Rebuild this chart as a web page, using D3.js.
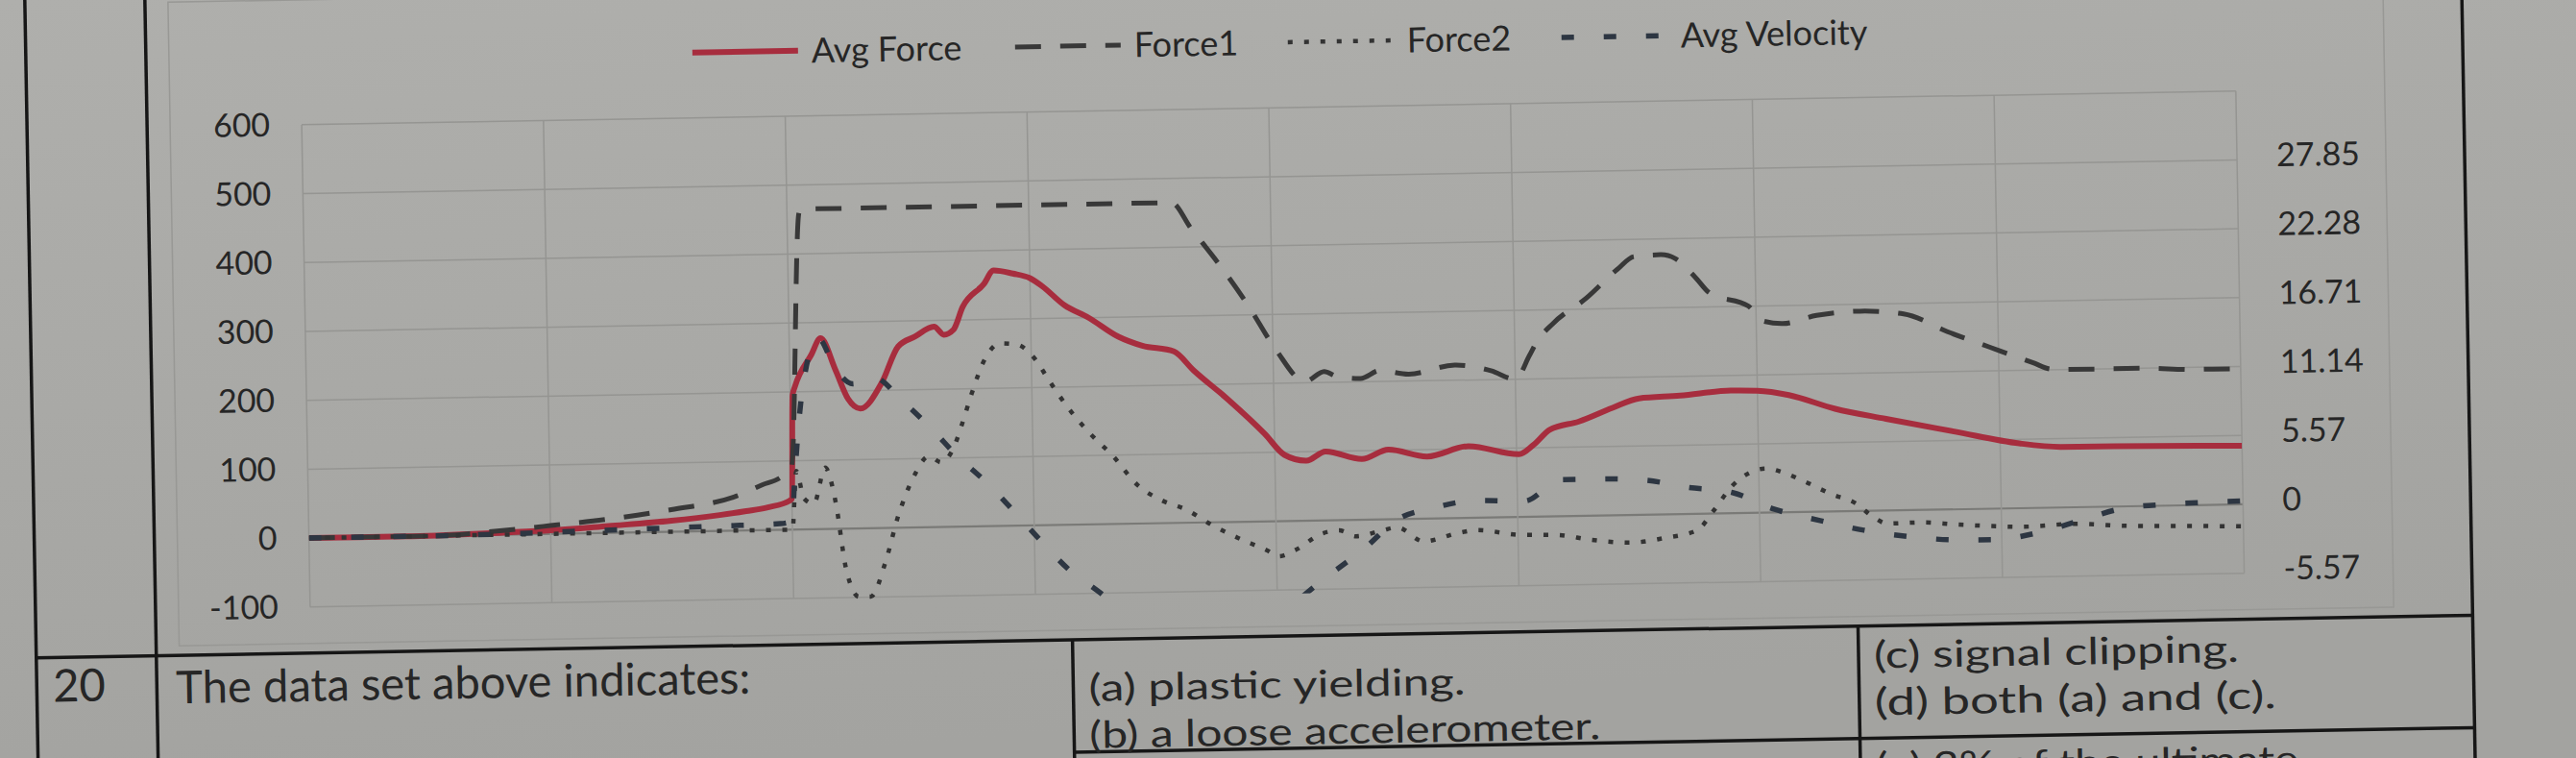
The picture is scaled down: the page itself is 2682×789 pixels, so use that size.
<!DOCTYPE html>
<html>
<head>
<meta charset="utf-8">
<script src="https://cdn.jsdelivr.net/npm/d3@7"></script>
<style>
  html, body { margin: 0; padding: 0; background: #a9a9a6; }
  svg { display: block; }
  text { font-family: Lato, "Open Sans", "Noto Sans", sans-serif; fill: #262626; }
</style>
</head>
<body>
<script>
// ---------------- data ----------------
// time axis is unlabeled; 8 equal gridline intervals -> time units 0..80
const gridTimes = [0, 10, 20, 30, 40, 50, 60, 70, 80];
const leftTicks = [-100, 0, 100, 200, 300, 400, 500, 600];
const rightTicks = [-5.57, 0, 5.57, 11.14, 16.71, 22.28, 27.85];
const legendLabels = ["Avg Force", "Force1", "Force2", "Avg Velocity"];

const avgForceT = [0, 4, 8, 10, 12.4, 15, 17, 18.1, 19, 19.9, 20, 20.1, 20.2, 20.9, 21.3, 21.9, 22.4, 22.9, 23.8, 24.5, 25.2, 26, 26.4, 26.8, 27.2, 28.1, 28.5, 29.3, 30, 30.5, 31.4, 32.4, 33.6, 34.6, 35.9, 36.7, 38.1, 39.6, 40.4, 41.3, 42.1, 43.6, 44.7, 46.3, 48, 50.1, 50.7, 51.4, 52.6, 54, 55.1, 56.8, 58.9, 60, 61.3, 63.2, 65.3, 68.1, 70.8, 72.5, 76.4, 80];
const avgForce  = [0, 0, 3, 5, 10, 16, 23, 28, 33, 42, 45, 195, 207, 253, 277, 230, 188, 174, 211, 263, 277, 291, 279, 286, 319, 352, 371, 366, 359, 347, 319, 300, 272, 258, 249, 221, 178, 127, 96, 87, 100, 88, 101, 90, 104, 91, 104, 126, 137, 156, 169, 172, 178, 177, 170, 149, 133, 113, 94, 88, 87, 85];

const force1T = [0, 5, 8, 10, 12.4, 15, 17.7, 18.8, 19.5, 20, 20.5, 20.6, 35.9, 36.7, 37.9, 39, 40.1, 41.3, 42.1, 42.6, 43.6, 44.4, 45.6, 47.5, 49, 50, 50.6, 50.9, 51.6, 53, 54.3, 55, 56.1, 56.7, 57.5, 58.1, 59.7, 60.3, 61.1, 62.5, 64.3, 66.1, 67.9, 69.6, 71.4, 72.2, 74, 76, 78, 80];
const force1  = [0, 0, 6, 12, 20, 32, 50, 66, 75, 89, 460, 465, 465, 427, 371, 314, 250, 202, 216, 209, 205, 216, 210, 222, 213, 200, 234, 253, 280, 316, 357, 375, 377, 371, 344, 320, 300, 278, 274, 285, 290, 285, 258, 235, 211, 201, 200, 200, 197, 197];

const force2T = [0, 19.9, 20, 20.2, 20.5, 20.9, 21.4, 21.8, 22.2, 22.7, 23.2, 23.8, 24.4, 25, 25.7, 26.2, 26.7, 27.1, 27.5, 28.1, 28.7, 29.4, 30.1, 30.7, 31.4, 32.4, 33.3, 34.3, 35.3, 36.3, 37.4, 38.4, 39.6, 40.1, 40.8, 41.9, 42.6, 43.3, 44.4, 45, 46.1, 47.5, 48.3, 50.1, 51.6, 53, 54.7, 56.1, 57.4, 58.1, 58.9, 59.6, 60.3, 61, 61.9, 63, 64, 64.7, 65.3, 66.7, 68.1, 69.5, 70.9, 73, 75, 77.8, 80];
const force2  = [0, 0, 0, 85, 45, 37, 89, 40, -60, -99, -99, -52, 19, 70, 103, 94, 113, 150, 192, 244, 265, 263, 244, 211, 174, 131, 99, 56, 33, 19, -5, -23, -42, -51, -42, -19, -15, -24, -16, -12, -33, -22, -18, -26, -27, -35, -40, -34, -24, 4, 40, 58, 64, 58, 44, 25, 11, -9, -19, -18, -22, -25, -27, -24, -28, -30, -32];

// Avg Velocity (secondary axis, m/s); it runs off the bottom of the plot around t = 33..41
const velocityT = [0, 5, 8, 11, 14, 17, 19.5, 20, 20.1, 20.5, 21.2, 21.9, 22.6, 23.4, 24.7, 25.9, 26.8, 28.1, 29.2, 30.2, 31.4, 32.7, 34.5, 37, 39.5, 42.1, 43.6, 45, 46.5, 48.3, 50.3, 51.8, 53.5, 55.3, 57, 58.9, 60.6, 62.5, 64.3, 66.1, 67.9, 69.7, 71.5, 73.3, 75, 76.8, 78.6, 80];
const velocity  = [0, 0, 0.06, 0.17, 0.28, 0.39, 0.5, 0.67, 3.34, 11.14, 15.43, 12.92, 11.7, 12.25, 10.14, 7.8, 5.85, 3.45, 1.11, -1.11, -3.62, -5.57, -8.91, -10.86, -8.36, -4.51, -2.4, -0.06, 0.84, 1.39, 1.28, 2.95, 2.95, 2.79, 2.17, 1.67, 0.28, -0.72, -1.56, -2.12, -2.45, -2.51, -2.01, -1.06, -0.17, 0.11, 0.22, 0.28];

// ---------------- drawing ----------------
const W = 2682, H = 789;
const svg = d3.select("body").append("svg").attr("width", W).attr("height", H);
const defs = svg.append("defs");
const grad = defs.append("linearGradient").attr("id", "paper")
  .attr("x1", 0).attr("y1", 0).attr("x2", 0.3).attr("y2", 1);
grad.append("stop").attr("offset", 0).attr("stop-color", "#afafac");
grad.append("stop").attr("offset", 1).attr("stop-color", "#a3a3a0");
svg.append("rect").attr("width", W).attr("height", H).attr("fill", "url(#paper)");

// the page is photographed slightly tilted
const g = svg.append("g").attr("transform", "rotate(-1,1340,400) translate(0,2)");

// plot geometry
const X0 = 319, X1 = 2333, YT = 110, YB = 612;
const x = d3.scaleLinear().domain([0, 80]).range([X0, X1]);
const y = d3.scaleLinear().domain([-100, 600]).range([YB, YT]);
const y2 = d3.scaleLinear().domain([-5.57, 33.42]).range([YB, YT]);

defs.append("clipPath").attr("id", "plotClip")
  .append("rect").attr("x", X0).attr("y", YT - 4).attr("width", X1 - X0).attr("height", YB - YT + 8);

// chart-area outline (faint)
g.append("rect").attr("x", 182).attr("y", -20).attr("width", 2306).attr("height", 670)
  .attr("fill", "none").attr("stroke", "#989895").attr("stroke-width", 1.5);

// gridlines
g.append("g").selectAll("line").data(leftTicks).join("line")
  .attr("x1", X0).attr("x2", X1).attr("y1", d => y(d)).attr("y2", d => y(d))
  .attr("stroke", d => d === 0 ? "#7a7a77" : "#959592")
  .attr("stroke-width", d => d === 0 ? 2.2 : 1.5);
g.append("g").selectAll("line").data(gridTimes).join("line")
  .attr("x1", d => x(d)).attr("x2", d => x(d)).attr("y1", YT).attr("y2", YB)
  .attr("stroke", "#959592").attr("stroke-width", 1.5);

// axes labels
const axL = g.append("g").attr("transform", `translate(${X0 - 33},0)`)
  .call(d3.axisLeft(y).tickValues(leftTicks).tickSize(0).tickPadding(0).tickFormat(d => String(d)));
axL.select(".domain").remove();
axL.selectAll("text").attr("font-size", 34).attr("fill", "#262626")
  .style("font-family", "Lato, 'Open Sans', sans-serif");

const axR = g.append("g").attr("transform", `translate(${X1 + 41},-4)`)
  .call(d3.axisRight(y2).tickValues(rightTicks).tickSize(0).tickPadding(0)
    .tickFormat(d => d === 0 ? "0" : d.toFixed(2)));
axR.select(".domain").remove();
axR.selectAll("text").attr("font-size", 34).attr("fill", "#262626")
  .style("font-family", "Lato, 'Open Sans', sans-serif");

// series
const mk = (ts, vs) => ts.map((t, i) => [t, vs[i]]);
const lineP = d3.line().x(d => x(d[0])).y(d => y(d[1])).curve(d3.curveMonotoneX);
const lineS = d3.line().x(d => x(d[0])).y(d => y2(d[1])).curve(d3.curveMonotoneX);

const styles = {
  "Avg Force":    { stroke: "#a72d3e", width: 6,   dash: null },
  "Force1":       { stroke: "#383838", width: 5,   dash: "27,20" },
  "Force2":       { stroke: "#333333", width: 4.5, dash: "5,12" },
  "Avg Velocity": { stroke: "#2d3642", width: 5.5, dash: "13,31" }
};

const plot = g.append("g").attr("clip-path", "url(#plotClip)");
const series = [
  { name: "Avg Force", d: lineP(mk(avgForceT, avgForce)) },
  { name: "Force1", d: lineP(mk(force1T, force1)) },
  { name: "Force2", d: lineP(mk(force2T, force2)) },
  { name: "Avg Velocity", d: lineS(mk(velocityT, velocity)) }
];
plot.selectAll("path").data(series).join("path")
  .attr("d", s => s.d).attr("fill", "none")
  .attr("stroke", s => styles[s.name].stroke)
  .attr("stroke-width", s => styles[s.name].width)
  .attr("stroke-dasharray", s => styles[s.name].dash)
  .attr("stroke-linejoin", "round");

// legend
const legX = [727, 1063, 1347, 1632];
const leg = g.append("g").selectAll("g").data(legendLabels).join("g")
  .attr("transform", (d, i) => `translate(${legX[i]},42)`);
leg.append("line").attr("x1", 0).attr("x2", 110).attr("y1", 0).attr("y2", 0)
  .attr("stroke", d => styles[d].stroke).attr("stroke-width", d => styles[d].width)
  .attr("stroke-dasharray", d => styles[d].dash);
leg.append("text").attr("x", 124).attr("dy", "0.35em").attr("font-size", 36).text(d => d);

// question table below the chart
const tbl = g.append("g").attr("stroke", "#161616").attr("stroke-width", 3.5);
[[33, -30, 33, 830], [158, -30, 158, 830], [2570, -30, 2570, 830],
 [33, 660, 2570, 660], [1112, 660, 1112, 830], [1930, 660, 1930, 830], [1112, 777, 2570, 777]]
  .forEach(p => tbl.append("line").attr("x1", p[0]).attr("y1", p[1]).attr("x2", p[2]).attr("y2", p[3]));

const q = g.append("g").attr("font-size", 47);
q.append("text").attr("x", 50).attr("y", 706).text("20");
q.append("text").attr("x", 178).attr("y", 710).attr("textLength", 598).text("The data set above indicates:");
const ans = g.append("g").attr("font-size", 39);
const ansItems = [
  ["(a) plastic yielding.", 1128, 724, 392],
  ["(b) a loose accelerometer.", 1128, 773, 532],
  ["(c) signal clipping.", 1946, 704, 380],
  ["(d) both (a) and (c).", 1946, 753, 418],
  ["(e) 3% of the ultimate", 1946, 820, 440]
];
ans.selectAll("text").data(ansItems).join("text")
  .attr("x", d => d[1]).attr("y", d => d[2])
  .attr("textLength", d => d[3]).attr("lengthAdjust", "spacingAndGlyphs")
  .text(d => d[0]);
</script>
</body>
</html>
